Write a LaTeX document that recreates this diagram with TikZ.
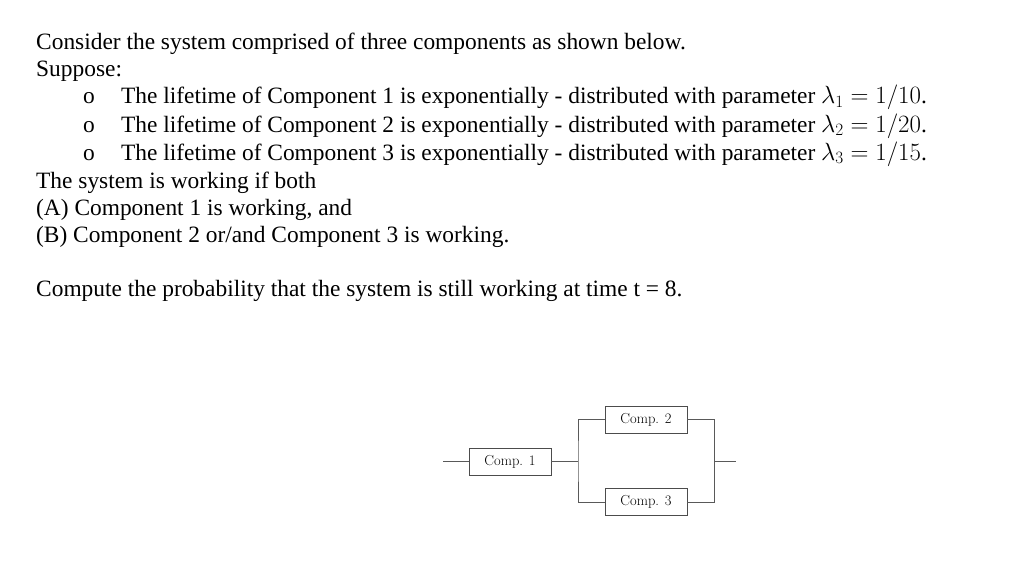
\documentclass[tikz,border=0pt]{standalone}
\usepackage{fontspec}
\setmainfont{Liberation Serif}
\newfontfamily\lmfont{Latin Modern Roman}
\begin{document}
\begin{tikzpicture}[x=1pt,y=-1pt,
  txt/.style={anchor=base west,inner sep=0pt,font=\fontsize{23.4}{26}\selectfont},
  comp/.style={draw=black!70,line width=0.8pt,minimum width=82pt,minimum height=27pt,inner sep=0pt,font=\lmfont\fontsize{14.5}{16}\selectfont},
  wire/.style={draw=black!65,line width=0.8pt}]
\useasboundingbox (0,0) rectangle (1024,567);
\node[txt] (l1) at (36,50) {Consider the system comprised of three components as shown below.};
\node[txt] (l2) at (36,77) {Suppose:};
\node[txt] (b1) at (83,104) {o};
\node[txt] (t1) at (121,104) {The lifetime of Component 1 is exponentially - distributed with parameter $\lambda_1=1/10$.};
\node[txt] (b2) at (83,132) {o};
\node[txt] (t2) at (121,132) {The lifetime of Component 2 is exponentially - distributed with parameter $\lambda_2=1/20$.};
\node[txt] (b3) at (83,160) {o};
\node[txt] (t3) at (121,160) {The lifetime of Component 3 is exponentially - distributed with parameter $\lambda_3=1/15$.};
\node[txt] (l3) at (36,188) {The system is working if both};
\node[txt] (l4) at (36,215) {(A) Component 1 is working, and};
\node[txt] (l5) at (36,242) {(B) Component 2 or/and Component 3 is working.};
\node[txt] (l6) at (36,296) {Compute the probability that the system is still working at time t = 8.};
\node[comp] (c1) at (510,461.5) {Comp. 1};
\node[comp] (c2) at (646,419.5) {Comp. 2};
\node[comp] (c3) at (646,502) {Comp. 3};
\coordinate (in) at (443,461.5);
\coordinate (ja) at (578,461.5);
\coordinate (jb) at (714,461.5);
\coordinate (out) at (736,461.5);
\draw[wire] (in) -- (c1.west);
\draw[wire] (c1.east) -- (ja);
\draw[wire] (c2.west) -| (ja) |- (c3.west);
\draw[wire] (c2.east) -| (jb) |- (c3.east);
\draw[wire] (jb) -- (out);
\end{tikzpicture}
\end{document}
